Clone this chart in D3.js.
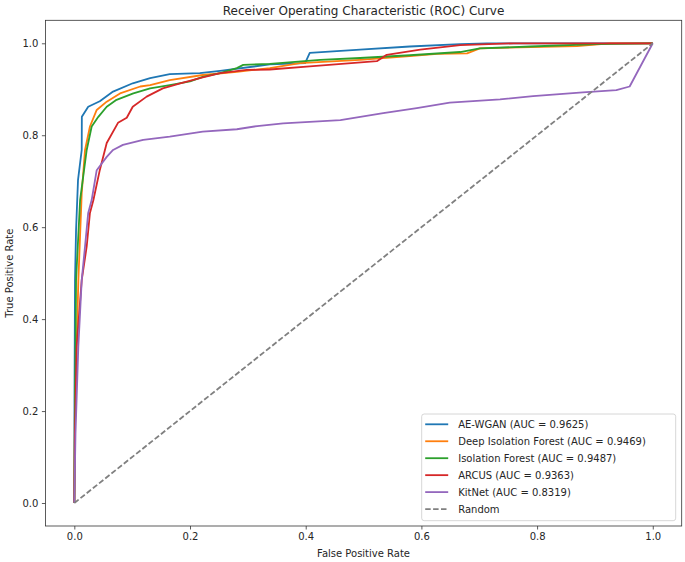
<!DOCTYPE html>
<html>
<head>
<meta charset="utf-8">
<script src="https://cdn.jsdelivr.net/npm/d3@7"></script>
<style>
  body { margin: 0; background: #fff; }
  text { font-family: "DejaVu Sans", sans-serif; fill: #262626; }
</style>
</head>
<body>
<svg id="chart" width="685" height="562"></svg>
<script>
// curve data (fpr / tpr pairs)
let aeWganFpr = [0, 0.0003, 0.0012, 0.003, 0.0064, 0.0128, 0.013, 0.024, 0.044, 0.067, 0.101, 0.131, 0.165, 0.217, 0.252, 0.338, 0.399, 0.407, 0.494, 0.58, 0.667, 0.713, 1];
let aeWganTpr = [0, 0.22, 0.485, 0.594, 0.703, 0.768, 0.84, 0.862, 0.874, 0.895, 0.913, 0.924, 0.933, 0.935, 0.94, 0.954, 0.957, 0.979, 0.986, 0.993, 0.998, 1.0, 1];

let deepIfFpr = [0, 0.001, 0.007, 0.0128, 0.0185, 0.027, 0.0387, 0.056, 0.079, 0.114, 0.131, 0.165, 0.222, 0.281, 0.338, 0.39, 0.494, 0.58, 0.627, 0.679, 0.701, 0.869, 0.926, 1];
let deepIfTpr = [0, 0.2, 0.485, 0.674, 0.768, 0.819, 0.855, 0.873, 0.891, 0.906, 0.909, 0.92, 0.931, 0.938, 0.946, 0.957, 0.964, 0.972, 0.977, 0.978, 0.989, 0.994, 1.0, 1];

let isoFpr = [0, 0.001, 0.003, 0.01, 0.0214, 0.03, 0.0415, 0.056, 0.073, 0.102, 0.131, 0.165, 0.2, 0.222, 0.252, 0.281, 0.292, 0.338, 0.425, 0.494, 0.58, 0.667, 0.701, 0.788, 0.903, 1];
let isoTpr = [0, 0.2, 0.485, 0.659, 0.768, 0.819, 0.84, 0.862, 0.877, 0.891, 0.902, 0.909, 0.917, 0.927, 0.935, 0.946, 0.953, 0.955, 0.964, 0.968, 0.974, 0.981, 0.989, 0.993, 0.998, 1];

let arcusFpr = [0, 0.001, 0.004, 0.0128, 0.0214, 0.027, 0.033, 0.044, 0.056, 0.0755, 0.0906, 0.101, 0.125, 0.153, 0.183, 0.222, 0.252, 0.298, 0.338, 0.407, 0.523, 0.54, 0.598, 0.667, 0.76, 1];
let arcusTpr = [0, 0.15, 0.34, 0.485, 0.558, 0.631, 0.659, 0.724, 0.783, 0.827, 0.838, 0.862, 0.884, 0.902, 0.913, 0.926, 0.935, 0.942, 0.943, 0.95, 0.961, 0.975, 0.986, 0.996, 1.0, 1];

let kitnetFpr = [0, 0.002, 0.0069, 0.0099, 0.0128, 0.0185, 0.024, 0.03, 0.0387, 0.056, 0.067, 0.084, 0.119, 0.165, 0.222, 0.281, 0.316, 0.361, 0.46, 0.534, 0.592, 0.649, 0.736, 0.793, 0.879, 0.937, 0.96, 1];
let kitnetTpr = [0, 0.15, 0.34, 0.413, 0.485, 0.558, 0.631, 0.659, 0.724, 0.753, 0.768, 0.779, 0.79, 0.797, 0.808, 0.813, 0.82, 0.826, 0.833, 0.848, 0.859, 0.871, 0.878, 0.885, 0.893, 0.898, 0.906, 1];

let randomFpr = [0, 1];
let randomTpr = [0, 1];

let seriesNames = ['AE-WGAN (AUC = 0.9625)', 'Deep Isolation Forest (AUC = 0.9469)', 'Isolation Forest (AUC = 0.9487)', 'ARCUS (AUC = 0.9363)', 'KitNet (AUC = 0.8319)', 'Random'];
let seriesColors = ['#1f77b4', '#ff7f0e', '#2ca02c', '#d62728', '#9467bd', '#808080'];
let tickValues = [0, 0.2, 0.4, 0.6, 0.8, 1.0];

let series = [
    [aeWganFpr, aeWganTpr],
    [deepIfFpr, deepIfTpr],
    [isoFpr, isoTpr],
    [arcusFpr, arcusTpr],
    [kitnetFpr, kitnetTpr],
    [randomFpr, randomTpr]
].map((s, i) => ({
    name: seriesNames[i],
    color: seriesColors[i],
    dashed: i === 5,
    points: s[0].map((f, j) => [f, s[1][j]])
}));

let svg = d3.select('#chart');
let plotLeft = 45.4, plotRight = 681.7, plotTop = 20.3, plotBottom = 526;

let x = d3.scaleLinear().domain([-0.05, 1.05]).range([plotLeft, plotRight]);
let y = d3.scaleLinear().domain([-0.05, 1.05]).range([plotBottom, plotTop]);

// axes
let xAxis = svg.append('g').attr('transform', `translate(0,${plotBottom})`)
    .call(d3.axisBottom(x).tickValues(tickValues).tickFormat(d3.format('.1f')).tickSize(3.5).tickPadding(3.5));
let yAxis = svg.append('g').attr('transform', `translate(${plotLeft},0)`)
    .call(d3.axisLeft(y).tickValues(tickValues).tickFormat(d3.format('.1f')).tickSize(3.5).tickPadding(3.5));
[xAxis, yAxis].forEach(a => {
    a.select('.domain').remove();
    a.selectAll('line').attr('stroke', '#333').attr('stroke-width', 0.8);
    a.selectAll('text').style('font-family', '"DejaVu Sans", sans-serif').style('font-size', '10px').attr('fill', '#262626');
});

// lines
let line = d3.line().x(d => x(d[0])).y(d => y(d[1]));
let g = svg.append('g');
g.selectAll('.roc').data(series).enter()
    .append('path')
    .attr('class', 'roc')
    .attr('d', d => line(d.points))
    .attr('fill', 'none')
    .attr('stroke', d => d.color)
    .attr('stroke-width', 1.8)
    .attr('stroke-linejoin', 'round')
    .attr('stroke-dasharray', d => d.dashed ? '5.5 2.4' : null);

// spines
svg.append('rect')
    .attr('x', plotLeft).attr('y', plotTop)
    .attr('width', plotRight - plotLeft).attr('height', plotBottom - plotTop)
    .attr('fill', 'none').attr('stroke', '#333').attr('stroke-width', 0.8);

// titles
svg.append('text').attr('x', (plotLeft + plotRight) / 2).attr('y', 15)
    .attr('text-anchor', 'middle').style('font-size', '12px')
    .text('Receiver Operating Characteristic (ROC) Curve');
svg.append('text').attr('x', (plotLeft + plotRight) / 2).attr('y', 557)
    .attr('text-anchor', 'middle').style('font-size', '10px')
    .text('False Positive Rate');
svg.append('text').attr('transform', `translate(13,${(plotTop + plotBottom) / 2}) rotate(-90)`)
    .attr('text-anchor', 'middle').style('font-size', '10px')
    .text('True Positive Rate');

// legend
let legend = svg.append('g').attr('transform', 'translate(421.7,414)');
legend.append('rect')
    .attr('width', 254).attr('height', 106.7).attr('rx', 2.5)
    .attr('fill', '#fff').attr('fill-opacity', 0.8)
    .attr('stroke', '#cccccc').attr('stroke-width', 0.8);
let rows = legend.selectAll('.row').data(series).enter()
    .append('g').attr('class', 'row')
    .attr('transform', (d, i) => `translate(0,${10.3 + i * 16.95})`);
rows.append('line')
    .attr('x1', 3.5).attr('x2', 26.5)
    .attr('stroke', d => d.color).attr('stroke-width', 1.8)
    .attr('stroke-dasharray', d => d.dashed ? '5.5 2.4' : null);
rows.append('text')
    .attr('x', 36.5).attr('dy', '0.35em')
    .style('font-size', '10px')
    .text(d => d.name);
</script>
</body>
</html>
